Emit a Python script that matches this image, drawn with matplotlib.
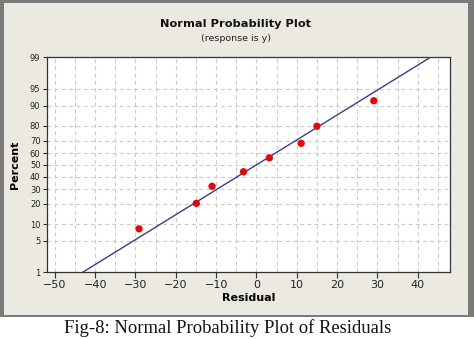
import numpy as np
import matplotlib
matplotlib.use("Agg")
import matplotlib.pyplot as plt
from matplotlib.patches import Rectangle
from statistics import NormalDist

plt.rcParams["font.family"] = "DejaVu Sans"

# Residuals and their plotting positions (percent)
residuals = [-29.1, -14.9, -11.0, -3.2, 3.2, 11.1, 15.0, 29.1]
percents = [8.3, 20.2, 32.1, 44.0, 56.0, 67.9, 79.8, 91.7]
x_ticks = [-50, -40, -30, -20, -10, 0, 10, 20, 30, 40]
y_ticks = [1, 5, 10, 20, 30, 40, 50, 60, 70, 80, 90, 95, 99]

C_PANEL = "#ECEAE0"
C_BORDER = "#7A7A78"
C_LINE = "#3B3B8F"
C_DOT = "#E00A0A"
C_GRID = "#CACACA"

_nd = NormalDist()
_inv = np.vectorize(lambda v: _nd.inv_cdf(v / 100.0), otypes=[float])
_cdf = np.vectorize(lambda v: _nd.cdf(v) * 100.0, otypes=[float])


def pct_to_z(p):
    p = np.clip(np.asarray(p, dtype=float), 1e-4, 100 - 1e-4)
    return _inv(p)


def z_to_pct(z):
    return _cdf(np.asarray(z, dtype=float))


fig = plt.figure(figsize=(4.74, 3.39), dpi=100)
fig.patch.set_facecolor("white")

# grey window frame + beige panel
fig.patches.append(Rectangle((0, 1 - 317 / 339), 1, 317 / 339, transform=fig.transFigure,
                             facecolor=C_BORDER, edgecolor="none", zorder=-2))
fig.patches.append(Rectangle((3.5 / 474, 1 - 315 / 339), 464 / 474, 312 / 339,
                             transform=fig.transFigure,
                             facecolor=C_PANEL, edgecolor="none", zorder=-1))

ax = fig.add_axes([46.7 / 474, 1 - 272.3 / 339, 403.3 / 474, 215 / 339])
ax.set_facecolor("white")
ax.set_yscale("function", functions=(pct_to_z, z_to_pct))
ax.set_xlim(-52, 48)
ax.set_ylim(1, 99)

# fitted normal line from sample mean / std
mu = np.mean(residuals)
sd = np.std(residuals, ddof=1)
pp = np.linspace(0.5, 99.5, 200)
ax.plot(mu + sd * pct_to_z(pp), pp, color=C_LINE, lw=1.0, zorder=3)
ax.scatter(residuals, percents, s=28, color=C_DOT, edgecolor="none", zorder=4)

ax.set_xticks(x_ticks)
ax.set_xticks(np.arange(-45, 48, 10), minor=True)
ax.set_yticks(y_ticks)
ax.set_yticklabels([str(v) for v in y_ticks])
ax.yaxis.set_minor_locator(matplotlib.ticker.NullLocator())
ax.grid(True, which="both", axis="x", color=C_GRID, ls=(0, (3.5, 3)), lw=0.8)
ax.grid(True, which="major", axis="y", color=C_GRID, ls=(0, (3.5, 3)), lw=0.8)
ax.tick_params(axis="x", which="major", labelsize=8, length=4, width=0.8,
               color="#333333", labelcolor="#222222", pad=1.5)
ax.tick_params(axis="x", which="minor", length=0)
ax.tick_params(axis="y", labelsize=6, length=3, width=0.8,
               color="#333333", labelcolor="#222222", pad=1.5)
for s in ax.spines.values():
    s.set_color("#333333")
    s.set_linewidth(0.9)

ax.set_xlabel("Residual", fontsize=8, fontweight="bold", labelpad=2)
ax.set_ylabel("Percent", fontsize=8, fontweight="bold", labelpad=7)

fig.text(236 / 474, 1 - 24 / 339, "Normal Probability Plot", ha="center", va="center",
         fontsize=8.2, fontweight="bold", color="#111111")
fig.text(236 / 474, 1 - 38.5 / 339, "(response is y)", ha="center", va="center",
         fontsize=6.8, color="#222222")
fig.text(228 / 474, 1 - 328 / 339, "Fig-8: Normal Probability Plot of Residuals",
         ha="center", va="center", fontsize=13.4, family="Liberation Serif",
         color="#111111")

fig.savefig("out.png", dpi=100, facecolor="white")
